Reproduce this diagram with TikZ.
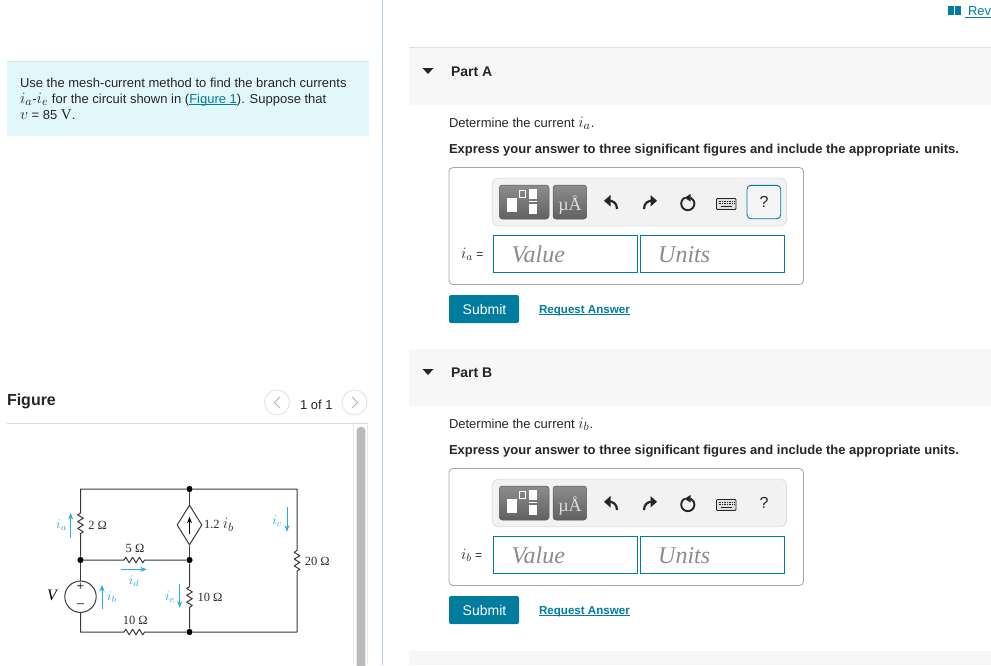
\documentclass[tikz,border=0pt]{standalone}
\usepackage{fontspec}
\setmainfont{Liberation Sans}
\newfontfamily\srf{Liberation Serif}
\usetikzlibrary{arrows.meta,shapes.geometric,calc}
\definecolor{teal}{HTML}{007C9E}
\definecolor{bluearrow}{HTML}{29ABE2}
\definecolor{wire}{HTML}{3A3A3A}
\definecolor{lbl}{HTML}{2D2D2D}
\definecolor{band}{HTML}{F7F7F7}
\definecolor{ink}{HTML}{262626}
\newcommand{\px}[1]{\fontsize{#1}{#1}\selectfont}
\newcommand{\mymath}[1]{\scalebox{1.32}{$#1$}}
\newcommand{\ul}[1]{\setbox0\hbox{#1}\rlap{\raisebox{-1.6pt}{\rule{\wd0}{0.75pt}}}\box0}
\tikzset{
  x=1pt,y=-1pt,
  txt/.style={inner sep=0pt,outer sep=0pt,anchor=base west,text=ink},
  wirel/.style={draw=wire,line width=1pt,line join=round},
  dotn/.style={circle,fill=black,inner sep=0pt,minimum size=6.2pt},
  curlbl/.style={inner sep=0pt,text=bluearrow},
  cirlbl/.style={inner sep=0pt,text=lbl,font=\srf\px{12.5}},
  curarrow/.style={draw=bluearrow,line width=1pt,-{Stealth[length=6.5pt,width=5pt]}},
  btn/.style={rounded corners=3pt,draw=black!65,line width=0.5pt,top color=black!45,bottom color=black!62},
  inbox/.style={draw=teal,line width=1pt,fill=white},
  ghost/.style={inner sep=0pt,anchor=base west,text=black!45,font=\srf\itshape\px{24}},
}
% horizontal and vertical resistor zigzags, running from the current point
\newcommand{\rzh}{-- ++(1.8,-2.8) -- ++(3.4,5.6) -- ++(3.4,-5.6) -- ++(3.4,5.6) -- ++(3.4,-5.6) -- ++(3.4,5.6) -- ++(1.8,-2.8)}
\newcommand{\rzv}{-- ++(-2.8,1.8) -- ++(5.6,3.4) -- ++(-5.6,3.4) -- ++(5.6,3.4) -- ++(-5.6,3.4) -- ++(5.6,3.4) -- ++(-2.8,1.8)}
% #1 offset, #2 name, #3 subscript, #4 style of the ? button
\newcommand{\partblock}[4]{%
\begin{scope}[shift={(0,#1)}]
  \fill[band] (409,48) rectangle (991,105);
  \fill[ink] (422.5,68) -- (433.5,68) -- (428,74) -- cycle;
  \node[txt,font=\bfseries\px{14}] (part#3) at (451,76) {#2};
  \node[txt,font=\px{13}] (det#3) at (449,127) {Determine the current \mymath{i_#3}.};
  \node[txt,font=\bfseries\px{13}] (exp#3) at (449,153) {Express your answer to three significant figures and include the appropriate units.};
  \draw[rounded corners=4pt,draw=black!35,line width=0.8pt] (449,167.5) rectangle (803.5,284.5);
  \draw[rounded corners=6pt,draw=black!13,fill=black!5,line width=0.8pt] (492.3,178.3) rectangle (786.5,225.7);
  \path[btn] (499.3,185) rectangle (549,219);
  \path[btn] (553,185) rectangle (586.7,219);
  \fill[white] (506.7,198.3) rectangle (517,212);
  \draw[white,line width=0.7pt] (519.3,190.7) rectangle (525,197.7);
  \fill[white] (528.7,189) rectangle (536.7,199.3);
  \fill[white] (528.7,204) rectangle (536.7,214);
  \draw[white,line width=0.8pt] (528.7,201.7) -- (536.7,201.7);
  \node[inner sep=0pt,text=black!13,font=\srf\px{18}] (mu#3) at (570,205) {µÅ};
  % undo
  \draw[ink,line width=2.2pt] (617,209) .. controls (617,203) and (613,200.5) .. (608,200.5);
  \fill[ink] (610.5,195) -- (604,200.8) -- (610.5,206.5) -- cycle;
  % redo
  \draw[ink,line width=2.2pt] (644,209) .. controls (644,203) and (648,200.5) .. (653,200.5);
  \fill[ink] (650.5,195) -- (657,200.8) -- (650.5,206.5) -- cycle;
  % reset
  \draw[ink,line width=1.9pt] (685,197.6) arc[start angle=245,end angle=-65,radius=6.6];
  \fill[ink] (690.5,194) -- (690.5,201.5) -- (684.5,197.8) -- cycle;
  % keyboard
  \draw[rounded corners=1pt,draw=ink,fill=black!12,line width=0.8pt] (716.5,198.5) rectangle (736,209.5);
  \draw[ink,line width=1pt,dash pattern=on 1pt off 0.7pt] (718.5,201.2) -- (734,201.2);
  \draw[ink,line width=1pt,dash pattern=on 1pt off 0.7pt] (718.5,203.8) -- (734,203.8);
  \draw[ink,line width=1pt] (720.5,206.6) -- (732,206.6);
  \path[#4] (747,185.3) rectangle (780.7,218.7);
  \node[inner sep=0pt,text=ink,font=\px{16}] (q#3) at (764,202) {?};
  \node[txt,font=\px{12}] (eq#3) at (461,258.5) {\mymath{i_#3} =};
  \path[inbox] (493.3,235.3) rectangle (637.7,272.7);
  \path[inbox] (640.3,235.3) rectangle (784.7,272.7);
  \node[ghost] (val#3) at (511.5,262) {Value};
  \node[ghost] (uni#3) at (658,262) {Units};
  \fill[teal,rounded corners=2pt] (449,295) rectangle (519,323);
  \node[inner sep=0pt,text=white,font=\px{14}] (sub#3) at (484.5,309.3) {Submit};
  \node[txt,text=teal,font=\bfseries\px{11.6}] (req#3) at (539,313) {\ul{Request Answer}};
\end{scope}}
\begin{document}
\begin{tikzpicture}
\useasboundingbox (0,0) rectangle (991,665);
\clip (0,0) rectangle (991,665);
\fill[white] (0,0) rectangle (991,665);
% divider
\draw[color={rgb,255:red,185;green,207;blue,227},line width=1pt] (382.3,0) -- (382.3,665);
% header link
\fill[teal] (948,5.5) rectangle (954,15);
\fill[teal] (955,5.5) rectangle (961,15);
\node[txt,text=teal,font=\px{13}] (rev) at (968,15) {Rev};
\draw[teal,line width=0.8pt] (965,17) -- (991,17);
% problem box
\fill[color={rgb,255:red,225;green,247;blue,250}] (7,61) rectangle (369,136);
\draw[color={rgb,255:red,213;green,227;blue,234},line width=0.7pt] (7,61) -- (369,61);
\node[txt,font=\px{13}] (p1) at (20,87) {Use the mesh-current method to find the branch currents};
\node[txt,font=\px{13}] (p2) at (20,103) {\mymath{i_a}-\mymath{i_e} for the circuit shown in ({\color{teal}\ul{Figure 1}}). Suppose that};
\node[txt,font=\px{13}] (p3) at (20,119) {\mymath{v} = 85 {\srf\px{15}V}.};
% figure header
\node[txt,font=\bfseries\px{16}] (fig) at (7,405) {Figure};
\node[draw=black!12,fill=white,circle,minimum size=25pt,inner sep=0pt,line width=0.7pt] (prev) at (277,402.5) {};
\node[draw=black!12,fill=white,circle,minimum size=25pt,inner sep=0pt,line width=0.7pt] (next) at (354.5,402.5) {};
\draw[black!30,line width=0.8pt] (280,397) -- (274.5,402.5) -- (280,408);
\draw[black!30,line width=0.8pt] (352,397) -- (357.5,402.5) -- (352,408);
\node[txt,font=\px{13}] (pg) at (300,409) {1 of 1};
\draw[black!15,line width=0.8pt] (7,423) -- (368,423);
\draw[black!9,line width=0.8pt] (353.5,423) -- (353.5,665);
\draw[black!9,line width=0.8pt] (367.7,423) -- (367.7,665);
\fill[black!27,rounded corners=3.5pt] (356.7,427) rectangle (365.3,675);
% circuit
\coordinate (tl) at (80.5,489);
\coordinate (tr) at (297,489);
\coordinate (bl) at (80.5,632);
\coordinate (br) at (297,632);
\node[dotn] (nt) at (189.5,489) {};
\node[dotn] (nl) at (80.5,560) {};
\node[dotn] (nm) at (189.5,560) {};
\node[dotn] (nb) at (189.5,632) {};
\node[diamond,draw=wire,line width=1pt,fill=white,minimum width=25pt,minimum height=40pt,inner sep=0pt,aspect=0.62] (dep) at (189.5,525) {};
\node[circle,draw=wire,line width=1pt,minimum size=31.4pt,inner sep=0pt] (src) at (80.5,596.7) {};
\draw[wirel] (nt) -- (tl) -- (80.5,513) \rzv -- (nl);
\draw[wirel] (nt) -- (tr) -- (297,550.5) \rzv -- (br) -- (nb);
\draw[wirel] (src.south) -- (bl) -- (124,632) \rzh -- (nb);
\draw[wirel] (nl) -- (124,560) \rzh -- (nm);
\draw[wirel] (nl) -- (src.north);
\draw[wirel] (nt) -- (dep.north);
\draw[wirel] (dep.south) -- (nm);
\draw[wirel] (nm) -- (189.5,586.7) \rzv -- (nb);
\draw[black,line width=1pt,-{Stealth[length=6.5pt,width=5pt]}] (dep.center |- 0,534) -- (dep.center |- 0,516.7);
\node[inner sep=0pt,text=lbl,font=\px{13}] (plus) at (80.5,587) {+};
\node[inner sep=0pt,text=lbl,font=\px{13}] (minus) at (80.5,605.5) {–};
\node[inner sep=0pt,text=black,font=\srf\itshape\px{16}] (vs) at (52,595) {V};
\node[cirlbl] (r2) at (97.7,525) {2 Ω};
\node[cirlbl] (r5) at (135,548.7) {5 Ω};
\node[cirlbl] (rb) at (135.3,620.3) {10 Ω};
\node[cirlbl] (re) at (210,597) {10 Ω};
\node[cirlbl] (rc) at (317.3,561) {20 Ω};
\node[cirlbl] (g) at (219,524.5) {1.2 \mymath{i_b}};
\draw[curarrow] (70.7,537.7) -- (70.7,513);
\draw[curarrow] (102,609) -- (102,585);
\draw[curarrow] (179.7,584) -- (179.7,607.7);
\draw[curarrow] (287,507.3) -- (287,531.7);
\draw[curarrow] (121,569.3) -- (146.7,569.3);
\node[curlbl] (ia) at (61.7,525) {\mymath{i_a}};
\node[curlbl] (ib) at (112,597) {\mymath{i_b}};
\node[curlbl] (ie) at (170.3,597) {\mymath{i_e}};
\node[curlbl] (ic) at (277.3,520.7) {\mymath{i_c}};
\node[curlbl] (id) at (134.3,581) {\mymath{i_d}};
% parts
\partblock{0}{Part A}{a}{{draw=teal,line width=0.9pt,rounded corners=4pt,fill=black!4}}
\partblock{301}{Part B}{b}{{draw=none}}
\draw[black!12,line width=0.6pt] (409,47.5) -- (991,47.5);
\fill[band] (409,651) rectangle (991,665);
\end{tikzpicture}
\end{document}
